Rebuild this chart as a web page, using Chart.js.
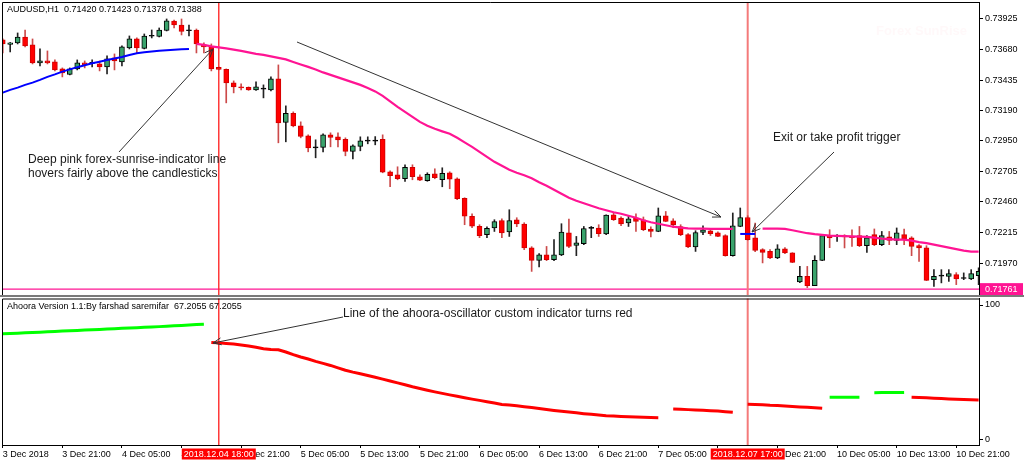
<!DOCTYPE html>
<html>
<head>
<meta charset="utf-8">
<script src="https://cdn.jsdelivr.net/npm/chart.js@4.4.1/dist/chart.umd.min.js"></script>
<style>
  html, body { margin: 0; padding: 0; background: #fff; }
  #wrap { position: relative; width: 1024px; height: 465px; overflow: hidden; }
  #priceChart { position: absolute; left: 0; top: 0; }
  #oscChart { position: absolute; left: 0; top: 297px; }
</style>
</head>
<body>
<div id="wrap">
  <canvas id="priceChart" width="1024" height="297"></canvas>
  <canvas id="oscChart" width="1024" height="168"></canvas>
</div>
<script>
// AUDUSD H1 candles, bar 0 = 3 Dec 13:00
const opens = [
  0.73757, 0.73721, 0.73733, 0.73781, 0.73717, 0.73573, 0.73589, 0.73581, 0.73525, 0.73481,
  0.73525, 0.73573, 0.73571, 0.73565, 0.73541, 0.73613, 0.73581, 0.73693, 0.73765, 0.73689,
  0.73789, 0.73785, 0.73833, 0.73909, 0.73877, 0.73833, 0.73837, 0.73717, 0.73701, 0.73537,
  0.73521, 0.73413, 0.73381, 0.73377, 0.73357, 0.73365, 0.73357, 0.73445, 0.73097, 0.73169,
  0.73069, 0.72989, 0.72897, 0.72897, 0.72997, 0.72981, 0.72961, 0.72865, 0.72905, 0.72949,
  0.72949, 0.72961, 0.72701, 0.72677, 0.72645, 0.72737, 0.72661, 0.72629, 0.72685, 0.72637,
  0.72693, 0.72645, 0.72489, 0.72345, 0.72265, 0.72197, 0.72251, 0.72311, 0.72219, 0.72317,
  0.72283, 0.72091, 0.71991, 0.72035, 0.71997, 0.72035, 0.72211, 0.72111, 0.72125, 0.72251,
  0.72251, 0.72203, 0.72357, 0.72331, 0.72291, 0.72331, 0.72317, 0.72243, 0.72223, 0.72349,
  0.72309, 0.72263, 0.72197, 0.72099, 0.72215, 0.72229, 0.72211, 0.72189, 0.72029, 0.72263,
  0.72335, 0.72171, 0.72077, 0.72063, 0.72011, 0.72083, 0.72051, 0.71819, 0.71863, 0.71789,
  0.71991, 0.72189, 0.72183, 0.72189, 0.72183, 0.72189, 0.72109, 0.72197, 0.72117, 0.72179,
  0.72151, 0.72197, 0.72171, 0.72109, 0.72091, 0.71837, 0.71869, 0.71863, 0.71877, 0.71849,
  0.71843, 0.71869
];
const highs = [
  0.73765, 0.73737, 0.73813, 0.73837, 0.73765, 0.73685, 0.73669, 0.73597, 0.73533, 0.73533,
  0.73597, 0.73589, 0.73597, 0.73589, 0.73629, 0.73645, 0.73709, 0.73789, 0.73773, 0.73805,
  0.73837, 0.73853, 0.73925, 0.73917, 0.73925, 0.73877, 0.73845, 0.73733, 0.73725, 0.73541,
  0.73525, 0.73429, 0.73405, 0.73381, 0.73421, 0.73397, 0.73461, 0.73557, 0.73229, 0.73181,
  0.73101, 0.72997, 0.72957, 0.73005, 0.73013, 0.73013, 0.72973, 0.72917, 0.72981, 0.72981,
  0.72983, 0.72997, 0.72709, 0.72741, 0.72757, 0.72757, 0.72677, 0.72693, 0.72725, 0.72733,
  0.72701, 0.72653, 0.72493, 0.72365, 0.72277, 0.72261, 0.72317, 0.72325, 0.72397, 0.72333,
  0.72293, 0.72101, 0.72045, 0.72103, 0.72157, 0.72285, 0.72323, 0.72183, 0.72263, 0.72263,
  0.72277, 0.72357, 0.72373, 0.72341, 0.72349, 0.72365, 0.72339, 0.72261, 0.72411, 0.72383,
  0.72325, 0.72277, 0.72205, 0.72229, 0.72269, 0.72243, 0.72221, 0.72197, 0.72371, 0.72411,
  0.72349, 0.72291, 0.72085, 0.72077, 0.72117, 0.72093, 0.72053, 0.71943, 0.71943, 0.72029,
  0.72197, 0.72237, 0.72197, 0.72197, 0.72237, 0.72263, 0.72189, 0.72243, 0.72223, 0.72223,
  0.72251, 0.72243, 0.72181, 0.72117, 0.72109, 0.71917, 0.71917, 0.71917, 0.71893, 0.71891,
  0.71917, 0.71931
];
const lows = [
  0.73653, 0.73661, 0.73725, 0.73701, 0.73565, 0.73549, 0.73565, 0.73509, 0.73461, 0.73477,
  0.73517, 0.73533, 0.73541, 0.73509, 0.73485, 0.73517, 0.73549, 0.73685, 0.73653, 0.73685,
  0.73773, 0.73781, 0.73829, 0.73853, 0.73797, 0.73789, 0.73653, 0.73653, 0.73509, 0.73517,
  0.73253, 0.73333, 0.73357, 0.73353, 0.73353, 0.73293, 0.73349, 0.72933, 0.72941, 0.73061,
  0.72973, 0.72861, 0.72813, 0.72861, 0.72901, 0.72901, 0.72829, 0.72805, 0.72869, 0.72925,
  0.72917, 0.72693, 0.72581, 0.72637, 0.72623, 0.72637, 0.72629, 0.72625, 0.72645, 0.72581,
  0.72565, 0.72477, 0.72277, 0.72253, 0.72173, 0.72173, 0.72223, 0.72173, 0.72183, 0.72261,
  0.72077, 0.71903, 0.71939, 0.71989, 0.71989, 0.72029, 0.72093, 0.72029, 0.72117, 0.72173,
  0.72183, 0.72197, 0.72311, 0.72269, 0.72263, 0.72223, 0.72229, 0.72179, 0.72221, 0.72301,
  0.72253, 0.72189, 0.72093, 0.72063, 0.72197, 0.72191, 0.72181, 0.72025, 0.72025, 0.72261,
  0.72153, 0.72061, 0.71971, 0.72005, 0.72005, 0.72045, 0.71973, 0.71813, 0.71773, 0.71789,
  0.71989, 0.72093, 0.72143, 0.72091, 0.72103, 0.72101, 0.72055, 0.72109, 0.72109, 0.72117,
  0.72117, 0.72117, 0.72029, 0.71983, 0.71829, 0.71783, 0.71811, 0.71823, 0.71797, 0.71837,
  0.71837, 0.71797
];
const closes = [
  0.73725, 0.73733, 0.73781, 0.73709, 0.73573, 0.73589, 0.73573, 0.73517, 0.73493, 0.73525,
  0.73573, 0.73557, 0.73569, 0.73541, 0.73605, 0.73589, 0.73701, 0.73765, 0.73693, 0.73789,
  0.73787, 0.73837, 0.73911, 0.73877, 0.73825, 0.73831, 0.73725, 0.73701, 0.73525, 0.73521,
  0.73413, 0.73381, 0.73373, 0.73357, 0.73381, 0.73363, 0.73445, 0.73093, 0.73169, 0.73069,
  0.72985, 0.72893, 0.72893, 0.72997, 0.72977, 0.72957, 0.72865, 0.72909, 0.72949, 0.72947,
  0.72947, 0.72697, 0.72669, 0.72645, 0.72737, 0.72661, 0.72633, 0.72681, 0.72653, 0.72689,
  0.72641, 0.72485, 0.72345, 0.72265, 0.72189, 0.72249, 0.72303, 0.72211, 0.72311, 0.72283,
  0.72091, 0.71991, 0.72035, 0.71997, 0.72035, 0.72219, 0.72103, 0.72131, 0.72247, 0.72248,
  0.72205, 0.72355, 0.72317, 0.72283, 0.72325, 0.72303, 0.72237, 0.72223, 0.72349, 0.72303,
  0.72277, 0.72197, 0.72099, 0.72215, 0.72237, 0.72205, 0.72183, 0.72029, 0.72269, 0.72335,
  0.72157, 0.72071, 0.72055, 0.72011, 0.72083, 0.72051, 0.71975, 0.71863, 0.71789, 0.71991,
  0.72189, 0.72171, 0.72181, 0.72179, 0.72173, 0.72109, 0.72171, 0.72117, 0.72189, 0.72151,
  0.72211, 0.72163, 0.72103, 0.72091, 0.71831, 0.71863, 0.71865, 0.71885, 0.71843, 0.71846,
  0.71885, 0.71903
];

// forex-sunrise line: blue while rising, deep pink while falling
const maBlue = [
  0.73335, 0.73357, 0.73375, 0.73397, 0.73415, 0.73437, 0.73461, 0.73481, 0.73503, 0.73521,
  0.73539, 0.73555, 0.73571, 0.73583, 0.73597, 0.73609, 0.73621, 0.73637, 0.73651, 0.73659,
  0.73665, 0.73671, 0.73675, 0.73679, 0.73682, 0.73685
]; // bars 0-25
const maPink = [
  0.73725, 0.73717, 0.73705, 0.73697, 0.73689, 0.73679, 0.73669, 0.73657, 0.73645, 0.73637,
  0.73625, 0.73613, 0.73601, 0.73581, 0.73561, 0.73541, 0.73521, 0.73497, 0.73477, 0.73457,
  0.73437, 0.73417, 0.73397, 0.73373, 0.73345, 0.73309, 0.73265, 0.73221, 0.73181, 0.73141,
  0.73101, 0.73069, 0.73045, 0.73025, 0.73005, 0.72973, 0.72937, 0.72901, 0.72861, 0.72821,
  0.72781, 0.72749, 0.72717, 0.72693, 0.72673, 0.72649, 0.72617, 0.72589, 0.72557, 0.72525,
  0.72493, 0.72469, 0.72449, 0.72429, 0.72409, 0.72393, 0.72377, 0.72365, 0.72349, 0.72333,
  0.72313, 0.72297, 0.72285, 0.72273, 0.72261, 0.72253, 0.72247, 0.72245, 0.72245, 0.72243,
  0.72243, 0.72243, 0.72243
]; // bars 26-98
const maBlue2 = [0.72203, 0.72203, 0.72203]; // bars 99-101
const maPink2 = [
  0.72245, 0.72245, 0.72245, 0.72243, 0.72233, 0.72221, 0.72209, 0.72201, 0.72195, 0.72189,
  0.72187, 0.72185, 0.72183, 0.72181, 0.72179, 0.72173, 0.72165, 0.72161, 0.72157, 0.72157,
  0.72149, 0.72137, 0.72129, 0.72117, 0.72105, 0.72093, 0.72081, 0.72069, 0.72061, 0.72061
]; // bars 102-131

const priceLine = 0.71761;
const priceTicks = [0.71725, 0.71970, 0.72215, 0.72460, 0.72705, 0.72950, 0.73190, 0.73435, 0.73680, 0.73925];

// Ahoora oscillator
const oscGreen1 = [
  78.6, 78.8, 79.0, 79.3, 79.6, 79.8, 80.0, 80.3, 80.6, 80.8, 81.1, 81.3, 81.6, 81.8,
  82.1, 82.3, 82.6, 82.9, 83.1, 83.4, 83.6, 83.9, 84.2, 84.5, 84.8, 85.1, 85.4, 85.7
]; // bars 0-27
const oscRed1 = [
  72.1, 71.8, 71.4, 71.0, 70.3, 69.5, 68.5, 67.5, 66.9, 66.6,
  65.0, 63.0, 61.3, 59.8, 58.0, 56.5, 55.0, 53.2, 51.4, 50.0,
  48.8, 47.5, 46.2, 44.8, 43.4, 42.0, 40.6, 39.1, 37.8, 36.5,
  35.3, 34.2, 33.1, 32.0, 30.9, 29.9, 29.0, 28.0, 27.0, 26.0,
  25.6, 25.0, 24.3, 23.6, 22.9, 22.2, 21.5, 20.9, 20.3, 19.7,
  19.1, 18.6, 18.1, 17.6, 17.3, 17.0, 16.8, 16.6, 16.4, 16.2, 16.1
]; // bars 28-88
const oscRed2 = [22.6, 22.4, 22.1, 21.8, 21.6, 21.3, 21.0, 20.6, 20.1]; // bars 90-98
const oscRed3 = [26.1, 26.0, 25.8, 25.4, 25.2, 24.8, 24.5, 24.1, 23.8, 23.5, 23.1]; // bars 100-110
const oscGreen2 = [31.3, 31.3, 31.4, 31.4, 31.4]; // bars 111-115
const oscGreen3 = [34.7, 34.8, 34.8, 34.8, 34.9]; // bars 117-121
const oscRed4 = [31.3, 31.1, 30.9, 30.6, 30.3, 30.1, 29.9, 29.6, 29.4, 29.3]; // bars 122-131
const oscTicks = [0, 100];

const timeLabels = [
  '3 Dec 2018', '3 Dec 21:00', '4 Dec 05:00', '4 Dec 13:00', '4 Dec 21:00', '5 Dec 05:00',
  '5 Dec 13:00', '5 Dec 21:00', '6 Dec 05:00', '6 Dec 13:00', '6 Dec 21:00', '7 Dec 05:00',
  '7 Dec 13:00', '7 Dec 21:00', '10 Dec 05:00', '10 Dec 13:00', '10 Dec 21:00'
];
const markers = [
  { bar: 29, text: '2018.12.04 18:00' },
  { bar: 100, text: '2018.12.07 17:00' }
];

Chart.defaults.font.family = "'Liberation Sans', Arial, sans-serif";
Chart.defaults.color = '#000';

const xMin = -0.1, xMax = 131.05;
const seg = (start, vals) => vals.map((v, k) => ({ x: start + k, y: v }));
const idx = opens.map((o, i) => i);
const doji = i => Math.abs(opens[i] - closes[i]) < 0.000045;
const bull = i => closes[i] > opens[i];

function arrow(ctx, x1, y1, x2, y2) {
  ctx.save();
  ctx.strokeStyle = '#333';
  ctx.lineWidth = 1;
  ctx.beginPath(); ctx.moveTo(x1, y1); ctx.lineTo(x2, y2); ctx.stroke();
  const a = Math.atan2(y2 - y1, x2 - x1), L = 9, w = 0.4;
  ctx.beginPath();
  ctx.moveTo(x2 - L * Math.cos(a - w), y2 - L * Math.sin(a - w));
  ctx.lineTo(x2, y2);
  ctx.lineTo(x2 - L * Math.cos(a + w), y2 - L * Math.sin(a + w));
  ctx.stroke();
  ctx.restore();
}

function vlines(chart) {
  const { ctx, chartArea: a, scales: { x } } = chart;
  ctx.save();
  markers.forEach((m, k) => {
    const px = x.getPixelForValue(m.bar);
    ctx.strokeStyle = k === 0 ? '#ff2a2a' : '#f47a7a';
    ctx.lineWidth = k === 0 ? 1.4 : 2;
    ctx.beginPath(); ctx.moveTo(px, a.top); ctx.lineTo(px, a.bottom); ctx.stroke();
  });
  ctx.restore();
}

const priceDecor = {
  id: 'priceDecor',
  beforeDatasetsDraw(chart) {
    const { ctx, chartArea: a, scales: { y } } = chart;
    ctx.save();
    ctx.font = "bold 13px 'Liberation Sans', Arial";
    ctx.fillStyle = 'rgba(255,110,140,0.05)';
    ctx.textBaseline = 'middle';
    ctx.fillText('Forex SunRise', 876, 31);
    const py = y.getPixelForValue(priceLine);
    ctx.strokeStyle = '#ff1493';
    ctx.lineWidth = 1.4;
    ctx.beginPath(); ctx.moveTo(a.left, py); ctx.lineTo(a.right, py); ctx.stroke();
    ctx.restore();
    vlines(chart);
  },
  afterDraw(chart) {
    const { ctx, chartArea: a, scales: { y } } = chart;
    ctx.save();
    // frame
    ctx.strokeStyle = '#000';
    ctx.lineWidth = 1;
    ctx.beginPath();
    ctx.moveTo(a.left + 0.5, a.bottom); ctx.lineTo(a.left + 0.5, a.top + 0.5); ctx.lineTo(a.right, a.top + 0.5);
    ctx.stroke();
    // current price tag
    const py = y.getPixelForValue(priceLine);
    ctx.fillStyle = '#ff1493';
    ctx.fillRect(a.right + 1, py - 6, 43, 12);
    ctx.fillStyle = '#fff';
    ctx.font = "9px 'Liberation Sans', Arial";
    ctx.textBaseline = 'middle';
    ctx.fillText(priceLine.toFixed(5), a.right + 6, py);
    // panel separator
    ctx.fillStyle = '#7a7a7a';
    ctx.fillRect(0, a.bottom, chart.width, 2);
    // header
    ctx.fillStyle = '#000';
    ctx.fillText('AUDUSD,H1  0.71420 0.71423 0.71378 0.71388', 7, 10);
    // notes
    ctx.fillStyle = '#1a1a1a';
    ctx.font = "12px 'Liberation Sans', Arial";
    ctx.fillText('Deep pink forex-sunrise-indicator line', 28, 160);
    ctx.fillText('hovers fairly above the candlesticks', 28, 174);
    ctx.fillText('Exit or take profit trigger', 773, 138);
    ctx.restore();
    arrow(ctx, 119, 152, 213, 49);
    arrow(ctx, 297, 42, 721, 217);
    arrow(ctx, 834, 152, 752, 232);
  }
};

const oscDecor = {
  id: 'oscDecor',
  beforeDatasetsDraw(chart) { vlines(chart); },
  afterDraw(chart) {
    const { ctx, chartArea: a, scales: { x } } = chart;
    ctx.save();
    ctx.strokeStyle = '#000';
    ctx.lineWidth = 1;
    ctx.beginPath();
    ctx.moveTo(a.left + 0.5, a.bottom); ctx.lineTo(a.left + 0.5, a.top + 0.5); ctx.lineTo(a.right, a.top + 0.5);
    ctx.stroke();
    ctx.font = "9px 'Liberation Sans', Arial";
    ctx.textBaseline = 'middle';
    ctx.fillStyle = '#000';
    ctx.fillText('Ahoora Version 1.1:By farshad saremifar  67.2055 67.2055', 7, 10);
    markers.forEach(m => {
      const px = x.getPixelForValue(m.bar);
      ctx.fillStyle = '#ff0000';
      ctx.fillRect(px - 37, a.bottom + 3.5, 74, 11);
      ctx.fillStyle = '#fff';
      ctx.textAlign = 'center';
      ctx.fillText(m.text, px, a.bottom + 9.5);
    });
    ctx.textAlign = 'left';
    ctx.fillStyle = '#1a1a1a';
    ctx.font = "12px 'Liberation Sans', Arial";
    ctx.fillText('Line of the ahoora-oscillator custom indicator turns red', 343, 17);
    ctx.restore();
    arrow(ctx, 343, 20, 213, 46);
  }
};

const axisFont = { size: 9 };
const lineDs = (data, color, width) => ({
  type: 'line', data, borderColor: color, borderWidth: width,
  pointRadius: 0, tension: 0, fill: false, order: 1
});

new Chart(document.getElementById('priceChart'), {
  type: 'bar',
  data: {
    datasets: [
      {
        label: 'wick',
        data: idx.map(i => ({ x: i, y: [lows[i], highs[i]] })),
        backgroundColor: idx.map(i => doji(i) || bull(i) ? '#222' : '#cc4a4a'),
        borderWidth: 0, barThickness: 1, grouped: false, order: 3
      },
      {
        label: 'body',
        data: idx.map(i => ({ x: i, y: [opens[i], closes[i]] })),
        backgroundColor: idx.map(i => doji(i) ? '#000' : bull(i) ? '#3aa36c' : '#ff0000'),
        borderColor: idx.map(i => doji(i) || bull(i) ? '#000' : '#d00000'),
        borderWidth: 1, borderSkipped: false, barThickness: 5, minBarLength: 1,
        grouped: false, order: 2
      },
      lineDs(seg(0, maBlue), '#0000ff', 2),
      lineDs(seg(26, maPink), '#ff1493', 2.2),
      lineDs(seg(99, maBlue2), '#0000ff', 2),
      lineDs(seg(102, maPink2), '#ff1493', 2.2)
    ]
  },
  options: {
    responsive: false,
    animation: false,
    devicePixelRatio: 1,
    events: [],
    layout: { padding: { left: 2, top: 2, right: 0, bottom: 2 } },
    plugins: { legend: { display: false }, tooltip: { enabled: false } },
    scales: {
      x: { type: 'linear', min: xMin, max: xMax, offset: false, display: false, grid: { offset: false } },
      y: {
        position: 'right', min: 0.71714, max: 0.74061,
        afterBuildTicks: s => { s.ticks = priceTicks.map(v => ({ value: v })); },
        afterFit: s => { s.width = 45; s.paddingTop = 0; s.paddingBottom = 0; },
        ticks: { color: '#000', font: axisFont, padding: 2, callback: v => Number(v).toFixed(5) },
        grid: { drawOnChartArea: false, color: '#000', tickLength: 4 },
        border: { color: '#000', width: 1 }
      }
    }
  },
  plugins: [priceDecor]
});

new Chart(document.getElementById('oscChart'), {
  type: 'line',
  data: {
    datasets: [
      lineDs(seg(0, oscGreen1), '#00ff00', 3),
      lineDs(seg(28, oscRed1), '#ff0000', 3),
      lineDs(seg(90, oscRed2), '#ff0000', 3),
      lineDs(seg(100, oscRed3), '#ff0000', 3),
      lineDs(seg(111, oscGreen2), '#00ff00', 3),
      lineDs(seg(117, oscGreen3), '#00ff00', 3),
      lineDs(seg(122, oscRed4), '#ff0000', 3)
    ]
  },
  options: {
    responsive: false,
    animation: false,
    devicePixelRatio: 1,
    events: [],
    layout: { padding: { left: 2, top: 1.5, right: 0, bottom: 0 } },
    plugins: { legend: { display: false }, tooltip: { enabled: false } },
    scales: {
      x: {
        type: 'linear', min: xMin, max: xMax, offset: false,
        afterBuildTicks: s => { s.ticks = timeLabels.map((t, k) => ({ value: k * 8 })); },
        afterFit: s => { s.height = 20; s.paddingLeft = 0; s.paddingRight = 0; },
        ticks: {
          align: 'start', maxRotation: 0, autoSkip: false, color: '#000', font: axisFont, padding: 1,
          callback: (v, k) => timeLabels[k]
        },
        grid: { drawOnChartArea: false, color: '#000', tickLength: 3 },
        border: { color: '#000', width: 1 }
      },
      y: {
        position: 'right', min: -4.24, max: 104.84,
        afterBuildTicks: s => { s.ticks = oscTicks.map(v => ({ value: v })); },
        afterFit: s => { s.width = 45; s.paddingTop = 0; s.paddingBottom = 0; },
        ticks: { color: '#000', font: axisFont, padding: 2 },
        grid: { drawOnChartArea: false, color: '#000', tickLength: 4 },
        border: { color: '#000', width: 1 }
      }
    }
  },
  plugins: [oscDecor]
});
</script>
</body>
</html>
